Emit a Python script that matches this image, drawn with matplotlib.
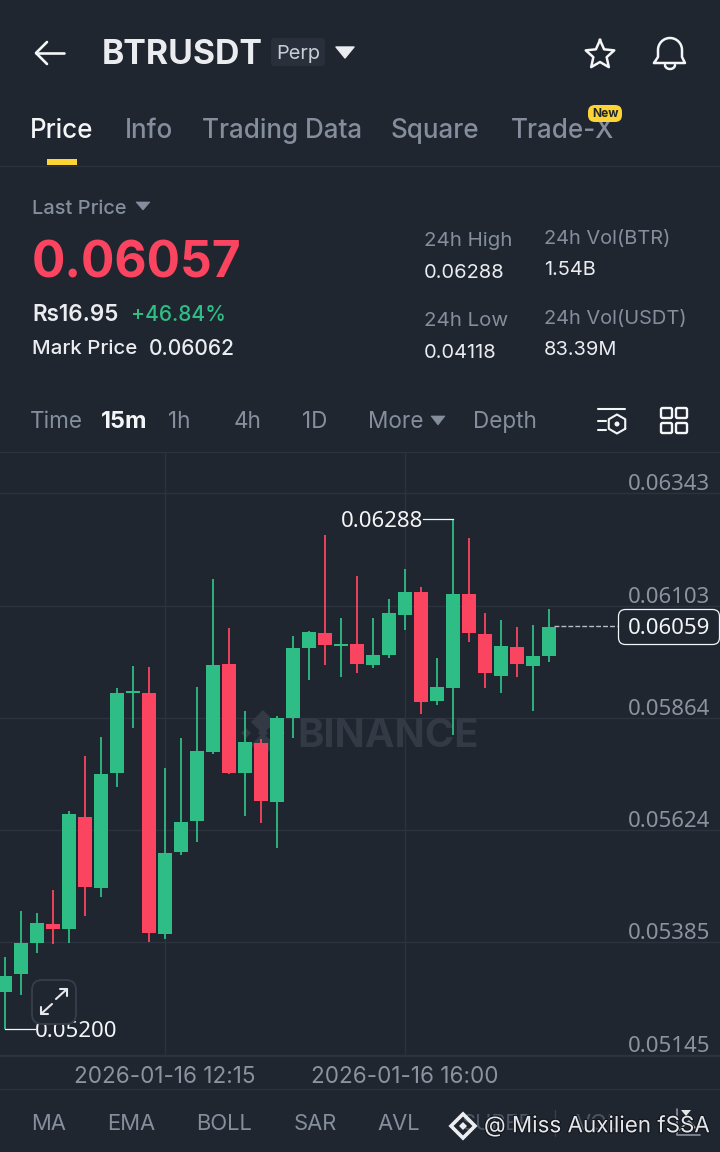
import matplotlib
matplotlib.use("Agg")
import matplotlib.pyplot as plt
from matplotlib.patches import FancyBboxPatch, Polygon, Rectangle, Circle
from matplotlib.transforms import ScaledTranslation
import matplotlib.patheffects as pe
import numpy as np

plt.rcParams['font.family'] = ['Inter', 'DejaVu Sans']

# ---------- data ----------
opens = [.05280,.05317,.05384,.05425,.05414,.05653,.05501,.05746,.05918,.05917,.05404,.05579,
         .05645,.05792,.05979,.05746,.05810,.05685,.05864,.06013,.06046,.06018,.06021,.05977,
         .05999,.06084,.06133,.05900,.05928,.06128,.06044,.05954,.06015,.05974,.05995]
highs = [.05354,.05453,.05448,.05498,.05665,.05783,.05824,.05928,.05975,.05972,.05758,.05821,
         .05930,.06161,.06055,.05878,.05820,.05869,.06039,.06050,.06254,.06077,.06167,.06077,
         .06118,.06182,.06143,.05992,.06288,.06248,.06087,.06073,.06058,.06062,.06097]
lows  = [.05200,.05274,.05363,.05381,.05384,.05441,.05481,.05716,.05842,.05385,.05393,.05572,
         .05600,.05788,.05744,.05654,.05639,.05586,.05822,.05945,.05976,.05951,.05959,.05970,
         .05992,.06052,.05873,.05891,.05827,.06025,.05927,.05917,.05952,.05879,.05984]
closes= [.05313,.05384,.05426,.05414,.05658,.05504,.05744,.05918,.05922,.05406,.05575,.05642,
         .05794,.05977,.05746,.05813,.05686,.05864,.06014,.06047,.06019,.06021,.05979,.05999,
         .06087,.06133,.05899,.05929,.06128,.06045,.05960,.06018,.05979,.05995,.06058]
price_ticks = [0.06343, 0.06103, 0.05864, 0.05624, 0.05385, 0.05145]
time_tick_index = [10, 25]
time_tick_labels = ["2026-01-16 12:15", "2026-01-16 16:00"]
last_price = 0.06059
max_price = 0.06288
min_price = 0.05200

tabs = ["Price", "Info", "Trading Data", "Square", "Trade-X"]
intervals = ["Time", "15m", "1h", "4h", "1D", "More", "Depth"]
indicators = ["MA", "EMA", "BOLL", "SAR", "AVL", "SUPER", "VOL"]

# ---------- colours ----------
BG = "#1F2630"
GREEN = "#2EBD85"
RED = "#FB4560"
GRID = "#2D333E"
MUTED = "#848E9C"
TXT = "#EAECEF"
WHITE = "#F4F5F7"
NUM = "Noto Sans"

W, H = 720, 1152
fig = plt.figure(figsize=(W / 100, H / 100), dpi=100, facecolor=BG)

# ---------- interface layer (created first so the chart can borrow its pixel scale) ----------
ui = fig.add_axes([0, 0, 1, 1], facecolor='none', zorder=5)
ui.set_xlim(0, W)
ui.set_ylim(H, 0)
ui.axis('off')

# ---------- chart ----------
top_px, bot_px = 452, 1055
ax = fig.add_axes([0, 1 - bot_px / H, 1, (bot_px - top_px) / H], facecolor=BG, zorder=1)
px_per = 46926.0
y_bottom = 0.06103 - (bot_px - 606) / px_per
ax.set_xlim(-4.5 / 16, (W - 4.5) / 16)
ax.set_ylim(y_bottom, y_bottom + (bot_px - top_px) / px_per)
for s in ax.spines.values():
    s.set_visible(False)

ax.set_yticks(price_ticks)
ax.set_yticklabels([f"{p:.5f}" for p in price_ticks], family=NUM)
ax.yaxis.tick_right()
ax.tick_params(axis='y', length=0, pad=-7.2, labelcolor="#8B93A0", labelsize=16)
drop = ScaledTranslation(0, -2 / 100, fig.dpi_scale_trans)
for lb in ax.get_yticklabels():
    lb.set_ha('right')
    lb.set_va('bottom')
    lb.set_transform(lb.get_transform() + drop)
ax.set_xticks(time_tick_index)
ax.set_xticklabels(time_tick_labels)
ax.tick_params(axis='x', length=0, pad=8.2, labelcolor="#8B93A0", labelsize=16.2)
ax.grid(True, color=GRID, lw=1.0, zorder=0)
ax.set_axisbelow(True)

ax.text(24.0, 0.05825, "BINANCE", color="#343A45", fontsize=28.7, fontweight='bold',
        ha='center', va='center', zorder=1)
for cx, cy, r in [(263, 722, 12), (263, 733, 5), (246, 733, 5), (280, 733, 5), (263, 745, 12)]:
    ax.add_patch(Polygon([[cx, cy - r], [cx + r, cy], [cx, cy + r], [cx - r, cy]], closed=True,
                         fc="#343A45", ec='none', zorder=1, transform=ui.transData))

idx = np.arange(len(opens))
for i, o, h, l, c in zip(idx, opens, highs, lows, closes):
    col = GREEN if c >= o else RED
    ax.vlines(i, l, h, color=col, lw=1.3, zorder=3)
    ax.bar(i, abs(c - o), bottom=min(o, c), width=0.875, color=col, lw=0, zorder=4)

# max / min / last annotations
imax = int(np.argmax(highs))
imin = int(np.argmin(lows))
ax.plot([imax - 1.85, imax], [max_price, max_price], color=WHITE, lw=0.9, zorder=5)
ax.annotate(f"{max_price:.5f}", (imax - 1.85, max_price), xytext=(0, -2), textcoords='offset points',
            color=WHITE, fontsize=16, family=NUM, ha='right', va='center', zorder=6)
ax.plot([imin, imin + 1.9], [min_price, min_price], color=WHITE, lw=0.9, zorder=5)
ax.annotate(f"{min_price:.5f}", (imin + 1.9, min_price), xytext=(0, -2), textcoords='offset points',
            color=WHITE, fontsize=16, family=NUM, ha='left', va='center', zorder=6)
ax.plot([len(opens) - 1 + 0.35, 38.3], [last_price, last_price], color="#B7BDC6", lw=1.0,
        ls=(0, (3.5, 1.5)), zorder=3)
ax.annotate(f"{last_price:.5f}", (41.55, last_price), xytext=(0, -1.5), textcoords='offset points',
            color=WHITE, fontsize=16, family=NUM, ha='center', va='center', zorder=7)


def T(x, y, s, px, color=TXT, weight='normal', ha='left', **kw):
    return ui.text(x, y + 2, s, fontsize=px * 0.72, color=color, fontweight=weight, ha=ha, va='center', **kw)


def L(xs, ys, color=WHITE, lw=1.6, **kw):
    ui.plot(xs, ys, color=color, lw=lw, solid_capstyle='round', solid_joinstyle='round', **kw)


def RR(x, y, w, h, r, fc='none', ec='none', lw=1.0, z=2):
    ui.add_patch(FancyBboxPatch((x + r, y + r), w - 2 * r, h - 2 * r, boxstyle=f"round,pad={r}",
                                fc=fc, ec=ec, lw=lw, zorder=z))


# header
L([36, 64], [53, 53], lw=1.9)
L([47, 36, 47], [42, 53, 64], lw=1.9)
T(102, 53, "BTRUSDT", 33.8, TXT, 'bold')
RR(271, 38, 54, 28, 3, fc="#2A303B")
T(298, 52, "Perp", 20, "#C9CED6", ha='center', zorder=3)
ui.add_patch(Polygon([[336, 47], [354, 47], [345, 58]], closed=True, fc=TXT, ec=TXT, lw=1, joinstyle='round'))
ang = np.deg2rad(np.arange(0, 720, 36)[:11] - 90)
rad = np.array([15, 7] * 5 + [15])
ui.plot(600 + rad * np.cos(ang), 55 + rad * np.sin(ang), color=WHITE, lw=1.8, solid_joinstyle='round')
th = np.linspace(np.pi, 0, 30)
L(np.r_[654, 658, 670 + 12 * np.cos(th), 682, 685, 654],
  np.r_[63, 57, 50 - 12 * np.sin(th), 57, 63, 63], lw=1.8)
L(670 + 5 * np.cos(np.linspace(0, np.pi, 15)), 65 + 4 * np.sin(np.linspace(0, np.pi, 15)), lw=1.8)

# tabs
tab_x = [30, 125, 202, 391, 511]
for i, (name, x) in enumerate(zip(tabs, tab_x)):
    T(x, 129, name, 26, WHITE if i == 0 else MUTED, 'medium')
ui.add_patch(Rectangle((47, 159), 30, 6, fc="#FCD535", ec='none'))
L([0, W], [165.5, 165.5], color=GRID, lw=0.9)
RR(588, 105, 34, 17, 7, fc="#FCD535", z=4)
T(605, 112, "New", 12, "#1F2630", 'bold', ha='center', zorder=5)

# prices
T(32, 207, "Last Price", 20, MUTED, 'medium')
ui.add_patch(Polygon([[136, 202], [150, 202], [143, 210]], closed=True, fc=MUTED, ec=MUTED, lw=0.5))
T(32, 262, "0.06057", 49.6, RED, 'bold')
T(32, 313, "Rs16.95", 22.5, TXT, 'semibold')
T(131, 313, "+46.84%", 21, GREEN, 'medium')
T(32, 347, "Mark Price", 20.5, TXT, 'medium')
T(149, 347, "0.06062", 21, TXT, 'medium')
T(424, 239, "24h High", 20.5, MUTED)
T(424, 271, "0.06288", 20, TXT)
T(424, 319, "24h Low", 20.5, MUTED)
T(424, 351, "0.04118", 20, TXT)
T(544, 237, "24h Vol(BTR)", 20, MUTED)
T(544, 268, "1.54B", 20, TXT)
T(544, 317, "24h Vol(USDT)", 20, MUTED)
T(544, 348, "83.39M", 20, TXT)

# interval row
int_x = [30, 101, 168, 234, 302, 368, 473]
for name, x in zip(intervals, int_x):
    on = name == "15m"
    T(x, 420, name, 23.5 if on else 22.5, WHITE if on else MUTED, 'bold' if on else 'normal')
ui.add_patch(Polygon([[431, 416], [445, 416], [438, 425]], closed=True, fc=MUTED, ec=MUTED, lw=0.5))
L([598, 625], [409, 409], lw=1.5)
L([598, 606], [421, 421], lw=1.5)
L([598, 606], [430, 430], lw=1.5)
a = np.deg2rad(np.arange(30, 391, 60))
L(617 + 9.5 * np.cos(a), 424 + 9.5 * np.sin(a), lw=1.5)
ui.add_patch(Circle((617, 424), 2.5, fc=WHITE, ec='none'))
for x0 in (661, 676):
    for y0 in (408, 423):
        RR(x0, y0, 11, 10, 1.5, ec=WHITE, lw=1.7)
L([0, W], [451.5, 451.5], color=GRID, lw=0.9)

# last price pill and expand button
RR(618.5, 609.5, 101, 35, 7, ec=WHITE, lw=0.9, z=1)
RR(32, 980, 44, 44, 10, fc=BG, ec="#363C48", lw=1.4, z=2)
L([56, 67], [999, 989], color="#E6E8EB", lw=1.5, zorder=3)
L([60, 67, 67], [989, 989, 996], color="#E6E8EB", lw=1.5, zorder=3)
L([41, 52], [1014, 1004], color="#E6E8EB", lw=1.5, zorder=3)
L([41, 41, 48], [1007, 1014, 1014], color="#E6E8EB", lw=1.5, zorder=3)

# bottom
L([0, W], [1055.5, 1055.5], color=GRID, lw=1.6)
L([0, W], [1088.5, 1088.5], color=GRID, lw=0.9)
ind_x = [49, 131, 224, 315, 399, 497, 598]
for name, x in zip(indicators, ind_x):
    T(x, 1122, name, 22, MUTED if name not in ("SUPER", "VOL") else "#4E5562", ha='center')
L([555, 555], [1110, 1136], color="#3A404C", lw=0.9)

# screen watermark
shadow = [pe.withStroke(linewidth=1.6, foreground="#12161C")]
T(484, 1124, "@ Miss Auxilien fSSA", 22.4, "#E4E6E9", path_effects=shadow, zorder=8)
r = 12
ui.add_patch(Polygon([[463, 1126 - r], [463 + r, 1126], [463, 1126 + r], [463 - r, 1126]], closed=True,
                     fc='none', ec="#ECEEF0", lw=2.6, zorder=8))
ui.add_patch(Polygon([[463, 1122], [467, 1126], [463, 1130], [459, 1126]], closed=True,
                     fc="#ECEEF0", ec='none', zorder=8))
L([677, 677, 700], [1109, 1135, 1135], color="#8C929D", lw=1.2, zorder=7)
L([679, 689, 697], [1130, 1121, 1130], color="#B5BAC2", lw=1.2, zorder=7)
ui.add_patch(Polygon([[681, 1110], [691, 1110], [686, 1116]], closed=True, fc="#E4E6E9", ec='none', zorder=8))

fig.savefig("out.png", dpi=100, facecolor=BG)
